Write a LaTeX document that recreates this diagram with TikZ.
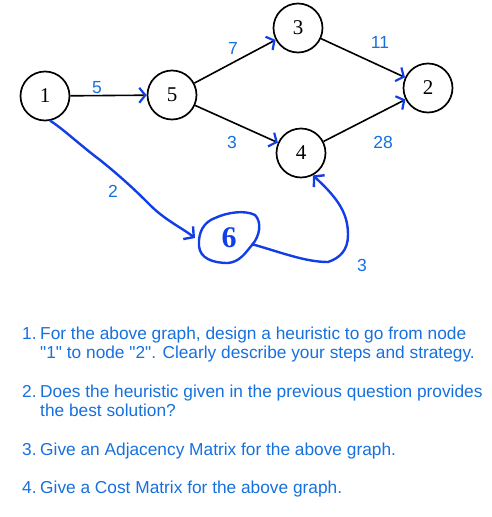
\documentclass[tikz,border=0pt]{standalone}
\usepackage{fontspec}
\setmainfont{Liberation Serif}
\newfontfamily\arialf{Liberation Sans}
\usetikzlibrary{arrows.meta}
\definecolor{labelblue}{RGB}{22,112,222}
\definecolor{inkblue}{RGB}{18,62,232}
\tikzset{
  gnode/.style={circle, draw=black, line width=1.7pt, minimum size=49pt, inner sep=0pt, font=\fontsize{21}{21}\selectfont},
  edge/.style={line width=1.6pt, draw=black, -{Straight Barb[color=inkblue, length=6pt, width=15pt, line width=2.2pt]}},
  hand/.style={line width=2.4pt, draw=inkblue, line cap=round, line join=round, -{Straight Barb[color=inkblue, length=7pt, width=16pt, line width=2.4pt]}},
  elab/.style={text=labelblue, font=\arialf\fontsize{17.5}{17.5}\selectfont, inner sep=0pt},
  qtext/.style={text=labelblue, font=\arialf\fontsize{17.3}{19.5}\selectfont, inner sep=0pt, align=left},
}
\begin{document}
\begin{tikzpicture}[x=1pt, y=-1pt]
\useasboundingbox (0,0) rectangle (492,517);
% nodes
\node[gnode] (n1) at (45,96) {1};
\node[gnode] (n5) at (172,95) {5};
\node[gnode] (n3) at (298,28) {3};
\node[gnode] (n2) at (428,88) {2};
\node[gnode] (n4) at (301,153) {4};
\node[inner sep=0pt, minimum size=46pt, text=inkblue, font=\fontsize{30}{30}\selectfont\bfseries] (n6) at (229,238) {6};
% hand-drawn blob around 6
\draw[line width=2.4pt, inkblue, line cap=round, line join=round]
  (215,218) .. controls (228,212) and (245,210) .. (255,215)
  .. controls (262,222) and (260,236) .. (252,245)
  .. controls (246,252) and (240,262) .. (228,263)
  .. controls (212,263) and (200,258) .. (199,246)
  .. controls (198,232) and (204,222) .. (215,218);
% black edges
\draw[edge] (n1) -- (n5);
\draw[edge] (n5) -- (n3);
\draw[edge] (n5) -- (n4);
\draw[edge] (n3) -- (n2);
\draw[edge] (n4) -- (n2);
% blue hand-drawn edges
\draw[hand] (n1.-78) .. controls (62,128) and (80,145) .. (100,160)
  .. controls (125,180) and (140,195) .. (150,205)
  .. controls (165,220) and (182,228) .. (195,238);
\draw[hand] (n6.-15) .. controls (280,252) and (305,262) .. (328,262)
  .. controls (340,258) and (348,250) .. (348,235)
  .. controls (348,215) and (340,200) .. (n4.-62);
% edge labels
\node[elab] (l15) at (97,88) {5};
\node[elab] (l53) at (233,48) {7};
\node[elab] (l32) at (380,42) {11};
\node[elab] (l54) at (232,142) {3};
\node[elab] (l42) at (383,142) {28};
\node[elab] (l16) at (113,191) {2};
\node[elab] (l64) at (362,265) {3};
% questions
\node[qtext, anchor=base west] (q1n) at (22,339) {1.};
\node[qtext, anchor=base west] (q1) at (40,358.5) {For the above graph, design a heuristic to go from node\\"1" to node "2". Clearly describe your steps and strategy.};
\node[qtext, anchor=base west] (q2n) at (22,397) {2.};
\node[qtext, anchor=base west] (q2) at (40,416.5) {Does the heuristic given in the previous question provides\\the best solution?};
\node[qtext, anchor=base west] (q3n) at (22,455) {3.};
\node[qtext, anchor=base west] (q3) at (40,455) {Give an Adjacency Matrix for the above graph.};
\node[qtext, anchor=base west] (q4n) at (22,493) {4.};
\node[qtext, anchor=base west] (q4) at (40,493) {Give a Cost Matrix for the above graph.};
\end{tikzpicture}
\end{document}
